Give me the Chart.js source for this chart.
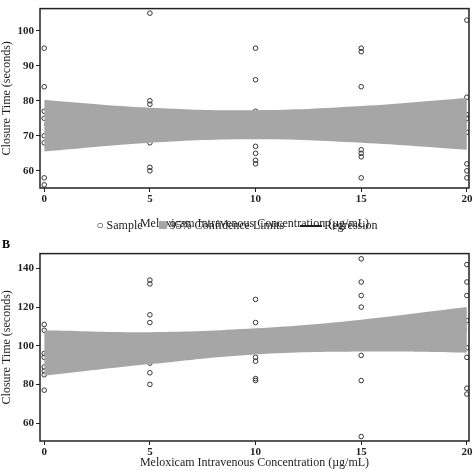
<!DOCTYPE html>
<html><head><meta charset="utf-8">
<script src="https://cdn.jsdelivr.net/npm/chart.js@4/dist/chart.umd.min.js"></script>
<style>
body{margin:0;background:#fff;width:474px;height:474px;overflow:hidden;position:relative;font-family:"Liberation Serif",serif;}
canvas{position:absolute;left:0;}
#legA{position:absolute;top:218px;left:0;width:474px;text-align:center;font-size:12px;color:#222;}
#legA span{margin:0 8px;}
#lbB{position:absolute;left:2px;top:237px;font-weight:bold;font-size:12px;}
</style></head><body>
<div style="position:absolute;left:0;top:0;width:474px;height:235px"><canvas id="cA"></canvas></div>
<div style="position:absolute;left:0;top:245px;width:474px;height:229px"><canvas id="cB"></canvas></div>
<div id="legA"><span>&#9675; Sample</span><span><span style="display:inline-block;width:8px;height:8px;background:#a6a6a6;margin:0 3px 0 0"></span>95% Confidence Limits</span><span><span style="display:inline-block;width:22px;border-top:2px solid #222;vertical-align:middle;margin:0 2px 0 0"></span>Regression</span></div>
<div id="lbB">B</div>
<script>
const conc = [0,5,10,15,20];
const sampleA = [
 [95,84,77,75,70,68,58,56],
 [105,80,79,69,68,61,60],
 [95,86,77,71,71,67,65,63,62],
 [95,94,84,74,66,65,64,58],
 [103,81,76,75,71,62,60,58]];
const upperA = [80.2,78,77.3,78.5,80.8];
const lowerA = [65.5,68,69,68,66];
const regA = [73.2,74.0];
const sampleB = [
 [111,108,96,94,89,87,85,77],
 [134,132,116,112,91,86,80],
 [124,112,99,98,94,92,83,82],
 [145,133,126,120,101,95,82,53],
 [142,133,126,113,99,94,78,75]];
const upperB = [108,107,109,113.5,120];
const lowerB = [84.5,90.5,95.5,97,96.5];
const regB = [96,108.5];
const xTicks = [0,5,10,15,20];

const boxPlugin = {id:'box',afterDraw(c){const a=c.chartArea,x=c.ctx;x.save();x.strokeStyle='#222';x.lineWidth=1.5;x.strokeRect(a.left,a.top,a.right-a.left,a.bottom-a.top);x.restore();}};

function make(id, samples, up, lo, reg, ymin, ymax, ystep, xh){
  const pts=[];samples.forEach((arr,i)=>arr.forEach(v=>pts.push({x:conc[i],y:v})));
  new Chart(document.getElementById(id),{
    type:'line',
    data:{datasets:[
      {data:conc.map((c,i)=>({x:c,y:up[i]})),borderWidth:0,pointRadius:0,backgroundColor:'#a6a6a6',fill:'+1',tension:0.4},
      {data:conc.map((c,i)=>({x:c,y:lo[i]})),borderWidth:0,pointRadius:0,fill:false,tension:0.4},
      {data:[{x:0,y:reg[0]},{x:20,y:reg[1]}],borderColor:'#111',borderWidth:1.5,pointRadius:0,fill:false},
      {data:pts,showLine:false,pointRadius:2.3,pointBorderWidth:1,pointBorderColor:'#333',pointBackgroundColor:'rgba(0,0,0,0)'}
    ]},
    options:{animation:false,responsive:true,maintainAspectRatio:false,
      layout:{padding:{top:0,right:4,left:0,bottom:0}},
      plugins:{legend:{display:false},tooltip:{enabled:false}},
      scales:{
        x:{type:'linear',min:-0.2,max:20.1,afterBuildTicks(s){s.ticks=xTicks.map(v=>({value:v}));},
           grid:{drawOnChartArea:false,tickLength:4,color:'#222'},border:{display:false},
           ticks:{color:'#222',font:{family:'Liberation Serif',size:11,weight:'bold'},padding:1,maxRotation:0},
           title:{display:true,text:'Meloxicam Intravenous Concentration (\u00b5g/mL)',color:'#222',font:{family:'Liberation Serif',size:12},padding:{top:0}},
           afterFit(s){s.height=xh;}},
        y:{min:ymin,max:ymax,afterBuildTicks(s){const t=[];for(let v=Math.ceil(ymin/ystep)*ystep;v<=ymax;v+=ystep)t.push({value:v});s.ticks=t;},
           grid:{drawOnChartArea:false,tickLength:4,color:'#222'},border:{display:false},
           ticks:{color:'#222',font:{family:'Liberation Serif',size:11,weight:'bold'},padding:2},
           title:{display:true,text:'Closure Time (seconds)',color:'#222',font:{family:'Liberation Serif',size:12},padding:0},
           afterFit(s){s.width=40;}}
      }},
    plugins:[boxPlugin]
  });
}
make('cA',sampleA,upperA,lowerA,regA,55.1,106.3,10,47);
make('cB',sampleB,upperB,lowerB,regB,50.7,147.7,20,33);
</script></body></html>
